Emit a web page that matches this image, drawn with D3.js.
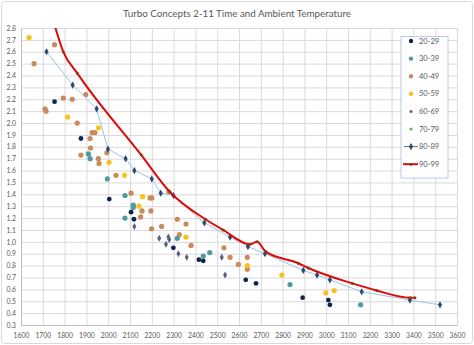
<!DOCTYPE html>
<html><head><meta charset="utf-8">
<script src="https://cdnjs.cloudflare.com/ajax/libs/d3/7.8.5/d3.min.js"></script>
<style>
body{margin:0;background:#fff;}
svg{display:block;font-family:Lato,"Open Sans",sans-serif;}
</style></head>
<body>
<svg id="c" width="474" height="345"></svg>
<script>
const title = "Turbo Concepts 2-11 Time and Ambient Temperature";
const xTicks = [1600,1700,1800,1900,2000,2100,2200,2300,2400,2500,2600,2700,2800,2900,3000,3100,3200,3300,3400,3500,3600];
const yTicks = [0.3,0.4,0.5,0.6,0.7,0.8,0.9,1.0,1.1,1.2,1.3,1.4,1.5,1.6,1.7,1.8,1.9,2.0,2.1,2.2,2.3,2.4,2.5,2.6,2.7,2.8];
const seriesNames = ["20-29","30-39","40-49","50-59","60-69","70-79","80-89","90-99"];

const s20 = [[1754,2.18],[1875,1.87],[2005,1.36],[2105,1.25],[2118,1.19],[2299,0.95],[2416,0.85],[2436,0.84],[2631,0.68],[2678,0.65],[2892,0.53],[3010,0.51],[3017,0.47]];
const s30 = [[1909,1.74],[1917,1.70],[1996,1.53],[2077,1.39],[2115,1.31],[2115,1.29],[2077,1.20],[2317,1.03],[2436,0.88],[2466,0.91],[2834,0.64],[3158,0.47]];
const s40 = [[1754,2.66],[1660,2.50],[1794,2.21],[1835,2.20],[1897,2.24],[1710,2.12],[1715,2.10],[1858,2.00],[1926,1.92],[1939,1.92],[1917,1.87],[1919,1.79],[1875,1.73],[1955,1.70],[1958,1.66],[1994,1.75],[2036,1.56],[2105,1.41],[2192,1.37],[2200,1.37],[2155,1.26],[2196,1.26],[2149,1.21],[2199,1.11],[2245,1.13],[2278,1.42],[2317,1.19],[2357,1.15],[2326,1.06],[2380,0.97],[2531,0.95],[2559,0.87],[2638,0.87],[2597,0.81],[2638,0.77]];
const s50 = [[1637,2.72],[1814,2.05],[1955,1.96],[2004,1.67],[2075,1.56],[2158,1.38],[2141,1.30],[2357,1.04],[2638,0.80],[2797,0.72],[2998,0.57],[3037,0.59]];
const s60 = [[2120,1.13],[2234,1.03],[2276,1.04],[2280,1.02],[2265,0.98],[2322,0.90],[2360,0.87],[2521,0.87],[2536,0.72]];
const s70 = [];
const s80 = [[1717,2.60],[1837,2.32],[1947,2.12],[1999,1.78],[2080,1.70],[2120,1.60],[2200,1.53],[2241,1.41],[2299,1.39],[2441,1.16],[2559,1.04],[2641,0.96],[2719,0.90],[2895,0.76],[2958,0.72],[3017,0.68],[3163,0.58],[3384,0.51],[3522,0.47]];
const s90 = [[1750,2.85],[1794,2.60],[1858,2.42],[2152,1.73],[2283,1.42],[2446,1.19],[2527,1.10],[2650,0.98],[2683,1.00],[2721,0.92],[2872,0.82],[2918,0.78],[3120,0.65],[3232,0.59],[3384,0.53],[3407,0.53]];

const colors = {navy:"#0e2452",teal:"#4e9aa2",orange:"#c98a5c",gold:"#f7c21a",slate:"#56637a",green:"#71ad47",blueMk:"#2c4a70",blueLn:"#9dc3e6",red:"#dd0a0a",redMk:"#8a3b12",grid:"#d9d9d9",text:"#595959"};

const svg = d3.select("#c");
const L=21,R=457,T=28,B=325;
const x = d3.scaleLinear().domain([1600,3600]).range([L,R]);
const y = d3.scaleLinear().domain([0.3,2.8]).range([B,T]);

svg.append("rect").attr("x",1.5).attr("y",1.5).attr("width",471).attr("height",342).attr("rx",3)
  .attr("fill","#fff").attr("stroke","#d9d9d9");

svg.append("text").attr("x",237).attr("y",17).attr("text-anchor","middle")
  .attr("font-size",9.8).attr("fill",colors.text).text(title);

// grid
const gx = svg.append("g").attr("transform",`translate(0,${B})`)
  .call(d3.axisBottom(x).tickValues(xTicks).tickSize(-(B-T)).tickFormat(""));
gx.select(".domain").remove();
gx.selectAll("line").attr("stroke",colors.grid);
const gy = svg.append("g").attr("transform",`translate(${L},0)`)
  .call(d3.axisLeft(y).tickValues(yTicks).tickSize(-(R-L)).tickFormat(""));
gy.select(".domain").remove();
gy.selectAll("line").attr("stroke",colors.grid);

// axis labels
const ax = svg.append("g").attr("transform",`translate(0,${B})`)
  .call(d3.axisBottom(x).tickValues(xTicks).tickSize(0).tickPadding(8).tickFormat(d3.format("d")));
ax.select(".domain").attr("stroke","#bfbfbf");
ax.selectAll("text").attr("font-size",6.8).attr("fill",colors.text).attr("font-family","Lato,sans-serif");
const ay = svg.append("g").attr("transform",`translate(${L},0)`)
  .call(d3.axisLeft(y).tickValues(yTicks).tickSize(0).tickPadding(5).tickFormat(d3.format(".1f")));
ay.select(".domain").attr("stroke","#bfbfbf");
ay.selectAll("text").attr("font-size",6.8).attr("fill",colors.text).attr("font-family","Lato,sans-serif");

svg.append("clipPath").attr("id","pa").append("rect").attr("x",L).attr("y",T).attr("width",R-L).attr("height",B-T);
const plot = svg.append("g").attr("clip-path","url(#pa)");

function dots(data,col,r){
  plot.append("g").selectAll("circle").data(data).join("circle")
    .attr("cx",d=>x(d[0])).attr("cy",d=>y(d[1])).attr("r",r).attr("fill",col);
}
function diamonds(g,data,col,sz){
  g.append("g").selectAll("path").data(data).join("path")
    .attr("d",d3.symbol(d3.symbolDiamond,sz))
    .attr("transform",d=>`translate(${x(d[0])},${y(d[1])})`).attr("fill",col);
}
dots(s40,colors.orange,2.6);
dots(s30,colors.teal,2.6);
dots(s50,colors.gold,2.6);
dots(s20,colors.navy,2.4);
diamonds(plot,s60,colors.slate,14);
dots(s70,colors.green,1.8);

// 80-89 line
plot.append("path").datum(s80).attr("fill","none").attr("stroke",colors.blueLn).attr("stroke-width",1)
  .attr("d",d3.line().x(d=>x(d[0])).y(d=>y(d[1])));
diamonds(plot,s80,colors.blueMk,15);

// 90-99 line
plot.append("path").datum(s90).attr("fill","none").attr("stroke",colors.red).attr("stroke-width",2)
  .attr("d",d3.line().curve(d3.curveMonotoneX).x(d=>x(d[0])).y(d=>y(d[1])));
plot.append("g").selectAll("circle").data(s90).join("circle")
  .attr("cx",d=>x(d[0])).attr("cy",d=>y(d[1])).attr("r",1.5).attr("fill",colors.redMk);

// legend
const lg = svg.append("g");
lg.append("rect").attr("x",401).attr("y",36.5).attr("width",47).attr("height",141.5)
  .attr("fill","#fff").attr("stroke","#a9bfd9").attr("stroke-width",0.8);
const legCols = [colors.navy,colors.teal,colors.orange,colors.gold,colors.slate,colors.green,colors.blueMk,colors.redMk];
seriesNames.forEach((n,i)=>{
  const cy = 41 + i*17.6;
  const g = lg.append("g");
  if(i===6){
    g.append("line").attr("x1",404).attr("x2",418).attr("y1",cy).attr("y2",cy).attr("stroke",colors.blueMk).attr("stroke-width",0.8);
    g.append("path").attr("d",d3.symbol(d3.symbolDiamond,15)).attr("transform",`translate(411,${cy})`).attr("fill",colors.blueMk);
  } else if(i===7){
    g.append("line").attr("x1",403).attr("x2",418).attr("y1",cy).attr("y2",cy).attr("stroke",colors.red).attr("stroke-width",2);
    g.append("circle").attr("cx",411).attr("cy",cy).attr("r",1.5).attr("fill",colors.redMk);
  } else {
    g.append("circle").attr("cx",411).attr("cy",cy).attr("r",(i===4||i===5)?1.5:2.2).attr("fill",legCols[i]);
  }
  g.append("text").attr("x",419).attr("y",cy).attr("dy","0.35em").attr("font-size",7.5)
    .attr("fill",colors.text).text(n);
});
</script>
</body></html>
